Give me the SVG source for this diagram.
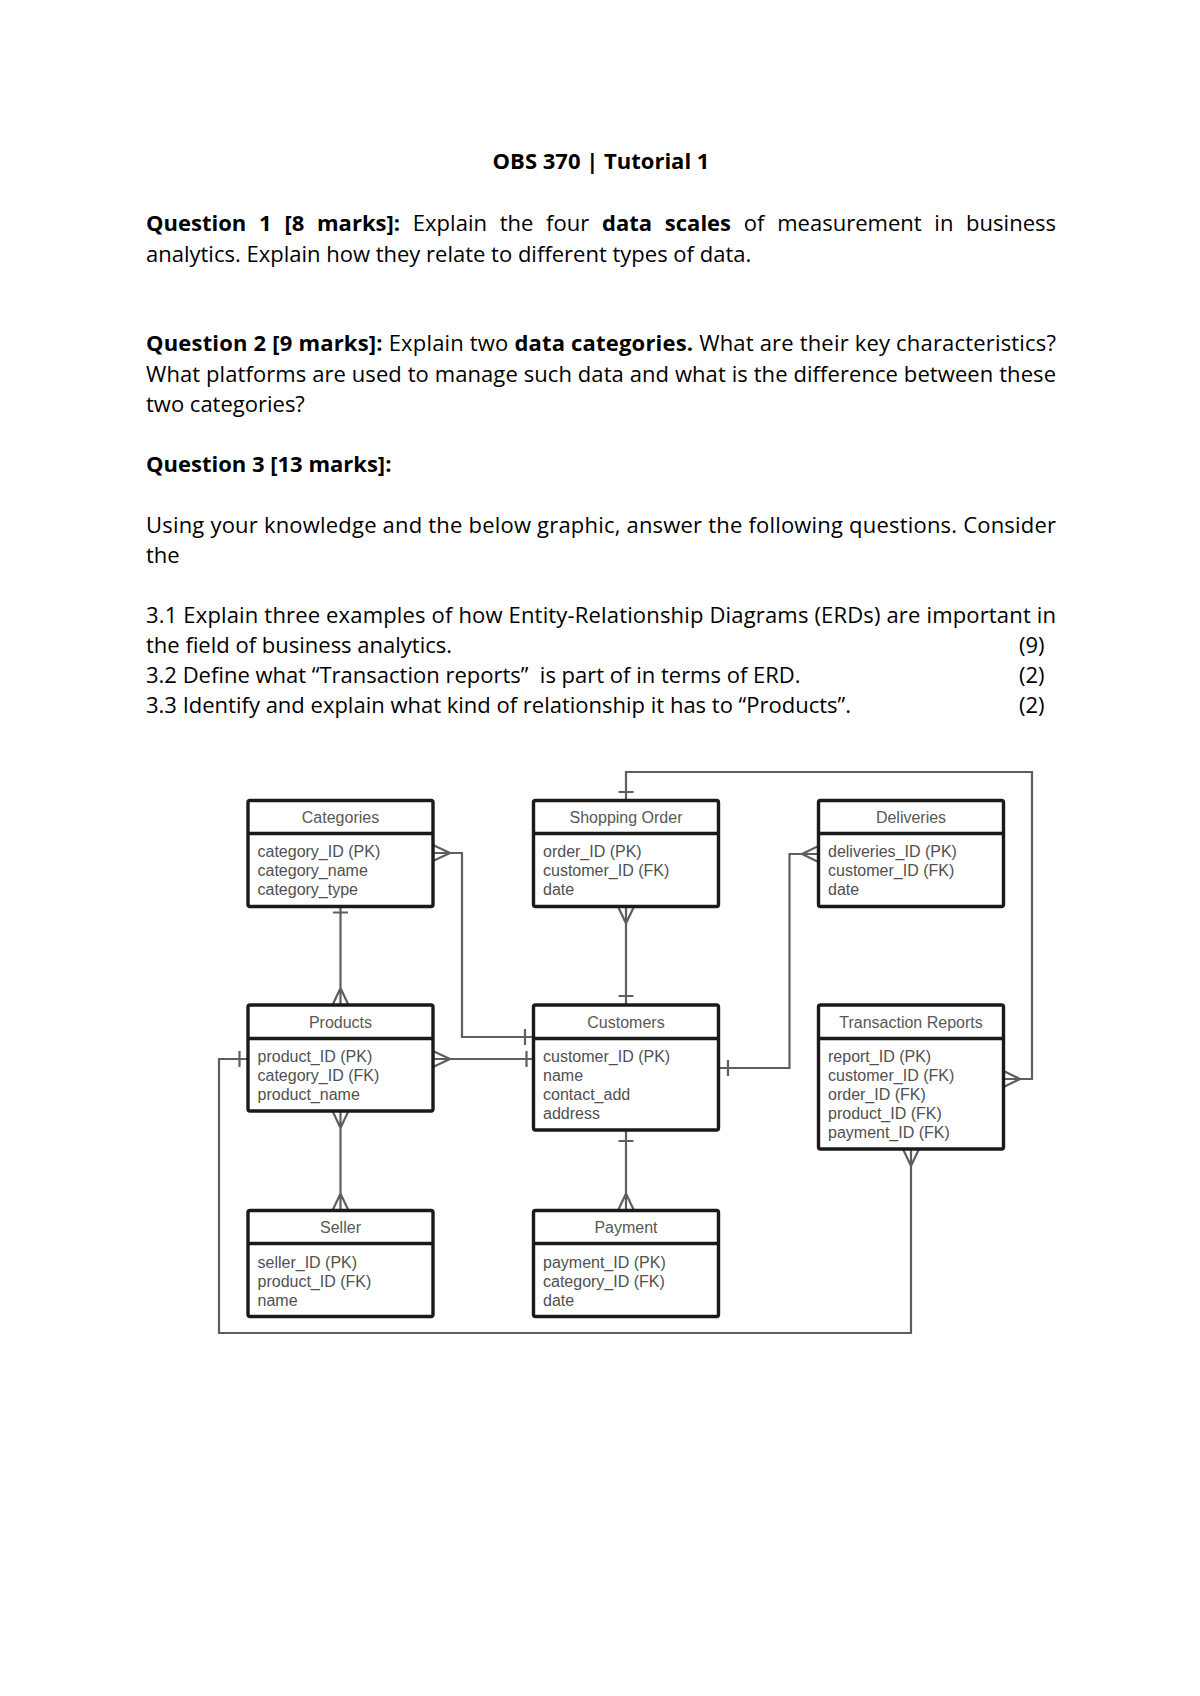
<svg xmlns="http://www.w3.org/2000/svg" width="1200" height="1696" viewBox="0 0 1200 1696">
<style>
.doc{font-family:"Open Sans","Noto Sans","Liberation Sans",sans-serif;font-size:22px;fill:#000}
.b{font-weight:bold}
.box{fill:#fff;stroke:#1a1a1a;stroke-width:3.4}
.div{stroke:#1a1a1a;stroke-width:3.4}
.hd{font-family:"Liberation Sans",Arial,sans-serif;font-size:16px;fill:#585858;text-anchor:middle}
.at{font-family:"Liberation Sans",Arial,sans-serif;font-size:16px;fill:#505050}
.conn{fill:none;stroke:#5e5e5e;stroke-width:2.2}
</style>
<rect width="1200" height="1696" fill="#fff"/>
<g id="page-text" class="doc">
<text class="b" x="601" y="169" text-anchor="middle">OBS 370 | Tutorial 1</text>
<text x="146" y="231" word-spacing="7" textLength="910" lengthAdjust="spacing"><tspan class="b">Question 1 [8 marks]:</tspan> Explain the four <tspan class="b">data scales</tspan> of measurement in business</text>
<text x="146" y="261.5">analytics. Explain how they relate to different types of data.</text>
<text x="146" y="351" textLength="910" lengthAdjust="spacing"><tspan class="b">Question 2 [9 marks]:</tspan> Explain two <tspan class="b">data categories.</tspan> What are their key characteristics?</text>
<text x="146" y="381.5" textLength="910" lengthAdjust="spacing">What platforms are used to manage such data and what is the difference between these</text>
<text x="146" y="412">two categories?</text>
<text class="b" x="146" y="472">Question 3 [13 marks]:</text>
<text x="146" y="533" textLength="910" lengthAdjust="spacing">Using your knowledge and the below graphic, answer the following questions. Consider</text>
<text x="146" y="563">the</text>
<text x="146" y="623" textLength="910" lengthAdjust="spacing">3.1 Explain three examples of how Entity-Relationship Diagrams (ERDs) are important in</text>
<text x="146" y="653">the field of business analytics.</text>
<text x="1019" y="653">(9)</text>
<text x="146" y="683" xml:space="preserve">3.2 Define what “Transaction reports”  is part of in terms of ERD.</text>
<text x="1019" y="683">(2)</text>
<text x="146" y="713">3.3 Identify and explain what kind of relationship it has to “Products”.</text>
<text x="1019" y="713">(2)</text>
</g>
<g id="connectors" class="conn">
<path d="M433,853 H462 V1037 H533.5 M433,845 L450,853 L433,861 M525,1029 V1045"/>
<path d="M340.5,906.5 V1005 M333,912.5 H348 M332.5,1005 L340.5,988 L348.5,1005"/>
<path d="M433,1059 H533.5 M433,1051 L450,1059 L433,1067 M526.5,1051 V1067"/>
<path d="M340.5,1111 V1210.5 M332.5,1111 L340.5,1128 L348.5,1111 M332.5,1210.5 L340.5,1193.5 L348.5,1210.5"/>
<path d="M248,1059 H219 V1333 H911 V1149 M239.5,1051 V1067 M903,1149 L911,1166 L919,1149"/>
<path d="M626,800.5 V772 H1032 V1079 H1003.5 M618.5,792 H633.5 M1003.5,1071 L1020,1079 L1003.5,1087"/>
<path d="M626,906.5 V1005 M618,906.5 L626,923.5 L634,906.5 M618.5,996 H633.5"/>
<path d="M718.5,1068 H789.5 V854 H818.5 M728,1060 V1076 M818.5,846 L802,854 L818.5,862"/>
<path d="M626,1130 V1210.5 M618.5,1141 H633.5 M618,1210.5 L626,1193.5 L634,1210.5"/>
</g>
<g id="categories">
<rect class="box" x="248" y="800.5" width="185" height="106" rx="2"/>
<line class="div" x1="248" y1="833.5" x2="433" y2="833.5"/>
<text class="hd" x="340.5" y="822.5">Categories</text>
<text class="at" x="257.5" y="857">category_ID (PK)</text>
<text class="at" x="257.5" y="876">category_name</text>
<text class="at" x="257.5" y="895">category_type</text>
</g>
<g id="shopping-order">
<rect class="box" x="533.5" y="800.5" width="185" height="106" rx="2"/>
<line class="div" x1="533.5" y1="833.5" x2="718.5" y2="833.5"/>
<text class="hd" x="626" y="822.5">Shopping Order</text>
<text class="at" x="543" y="857">order_ID (PK)</text>
<text class="at" x="543" y="876">customer_ID (FK)</text>
<text class="at" x="543" y="895">date</text>
</g>
<g id="deliveries">
<rect class="box" x="818.5" y="800.5" width="185" height="106" rx="2"/>
<line class="div" x1="818.5" y1="833.5" x2="1003.5" y2="833.5"/>
<text class="hd" x="911" y="822.5">Deliveries</text>
<text class="at" x="828" y="857">deliveries_ID (PK)</text>
<text class="at" x="828" y="876">customer_ID (FK)</text>
<text class="at" x="828" y="895">date</text>
</g>
<g id="products">
<rect class="box" x="248" y="1005" width="185" height="106" rx="2"/>
<line class="div" x1="248" y1="1038.5" x2="433" y2="1038.5"/>
<text class="hd" x="340.5" y="1028">Products</text>
<text class="at" x="257.5" y="1062">product_ID (PK)</text>
<text class="at" x="257.5" y="1081">category_ID (FK)</text>
<text class="at" x="257.5" y="1100">product_name</text>
</g>
<g id="customers">
<rect class="box" x="533.5" y="1005" width="185" height="125" rx="2"/>
<line class="div" x1="533.5" y1="1038.5" x2="718.5" y2="1038.5"/>
<text class="hd" x="626" y="1028">Customers</text>
<text class="at" x="543" y="1062">customer_ID (PK)</text>
<text class="at" x="543" y="1081">name</text>
<text class="at" x="543" y="1100">contact_add</text>
<text class="at" x="543" y="1119">address</text>
</g>
<g id="transaction-reports">
<rect class="box" x="818.5" y="1005" width="185" height="144" rx="2"/>
<line class="div" x1="818.5" y1="1038.5" x2="1003.5" y2="1038.5"/>
<text class="hd" x="911" y="1028">Transaction Reports</text>
<text class="at" x="828" y="1062">report_ID (PK)</text>
<text class="at" x="828" y="1081">customer_ID (FK)</text>
<text class="at" x="828" y="1100">order_ID (FK)</text>
<text class="at" x="828" y="1119">product_ID (FK)</text>
<text class="at" x="828" y="1138">payment_ID (FK)</text>
</g>
<g id="seller">
<rect class="box" x="248" y="1210.5" width="185" height="106" rx="2"/>
<line class="div" x1="248" y1="1243.5" x2="433" y2="1243.5"/>
<text class="hd" x="340.5" y="1233">Seller</text>
<text class="at" x="257.5" y="1267.5">seller_ID (PK)</text>
<text class="at" x="257.5" y="1286.5">product_ID (FK)</text>
<text class="at" x="257.5" y="1305.5">name</text>
</g>
<g id="payment">
<rect class="box" x="533.5" y="1210.5" width="185" height="106" rx="2"/>
<line class="div" x1="533.5" y1="1243.5" x2="718.5" y2="1243.5"/>
<text class="hd" x="626" y="1233">Payment</text>
<text class="at" x="543" y="1267.5">payment_ID (PK)</text>
<text class="at" x="543" y="1286.5">category_ID (FK)</text>
<text class="at" x="543" y="1305.5">date</text>
</g>
</svg>
